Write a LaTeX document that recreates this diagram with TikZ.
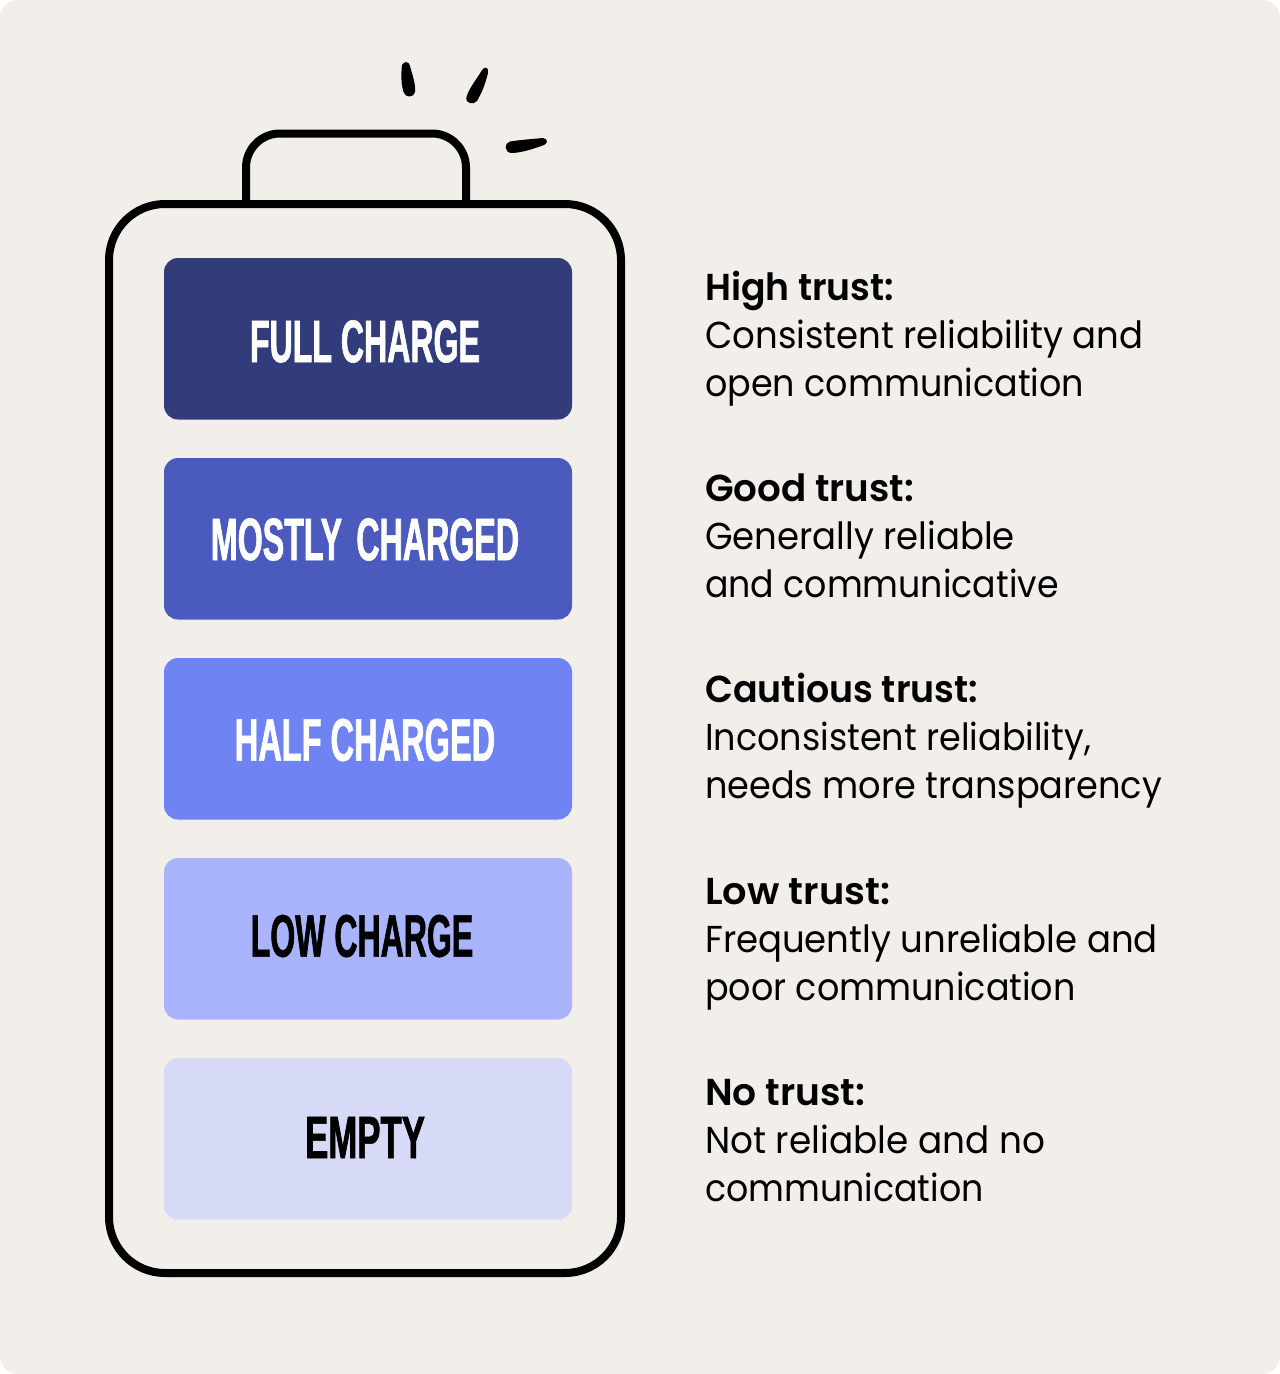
\documentclass[tikz,border=0pt]{standalone}
\usepackage{fontspec}
\usepackage{graphicx}
\setmainfont[FakeStretch=0.946,BoldFont={Poppins SemiBold}]{Poppins}
\newfontfamily\condfont[FakeStretch=0.5,FakeBold=1.0]{Liberation Sans Bold}
\newcommand{\widen}[2]{\scalebox{#1}[1]{#2}}
\definecolor{bgbeige}{HTML}{F2EEEA}
\definecolor{fullc}{HTML}{333C7B}
\definecolor{mostc}{HTML}{4A5ABD}
\definecolor{halfc}{HTML}{6F83F2}
\definecolor{lowc}{HTML}{A9B4FC}
\definecolor{emptyc}{HTML}{D6DAF6}
\tikzset{
  x=1pt,y=-1pt,
  cell/.style={rounded corners=14pt},
  outline/.style={draw=black,line width=8pt},
  capword/.style={font=\condfont\fontsize{60}{60}\selectfont,anchor=center,inner sep=0pt},
  bodyline/.style={font=\fontsize{37.5}{48}\selectfont,anchor=base west,inner sep=0pt,text=black},
  headline/.style={bodyline,font=\bfseries\fontsize{37.5}{48}\selectfont},
}
\begin{document}
\begin{tikzpicture}
\useasboundingbox (0,0) rectangle (1280,1374);
\fill[white] (0,0) rectangle (1280,1374);
\fill[bgbeige,rounded corners=18pt] (0,0) rectangle (1280,1374);
% battery terminal and body
\draw[outline,rounded corners=34pt] (246,204) -- (246,133.5) -- (466,133.5) -- (466,204);
\draw[outline,rounded corners=56pt] (109,204) rectangle (621,1273);
% sparks
\fill[black] (402,65) .. controls (404,61) and (409,61) .. (410,66) .. controls (412,74) and (416,84) .. (415,92) .. controls (414,98) and (405,98) .. (403.5,92) .. controls (401,84) and (401,74) .. (402,65);
\fill[black] (482,70) .. controls (485,66) and (489,67) .. (488,73) .. controls (486,81) and (483,91) .. (477,101) .. controls (474,105) and (465,104) .. (466.5,97) .. controls (469,88) and (477,79) .. (482,70);
\fill[black] (510,141.5) .. controls (519,140) and (532,139) .. (543,138) .. controls (548,139) and (548,143) .. (544,145) .. controls (533,149) and (521,153) .. (511,153) .. controls (504,152) and (504,143) .. (510,141.5);
% charge cells
\fill[fullc,cell] (164,258) rectangle (572,419.5);
\fill[mostc,cell] (164,458) rectangle (572,619.5);
\fill[halfc,cell] (164,658) rectangle (572,819.5);
\fill[lowc,cell] (164,858) rectangle (572,1019.5);
\fill[emptyc,cell] (164,1058) rectangle (572,1219.5);
\node[capword,text=white] (full) at (365,341.5) {\widen{1.07}{FULL CHARGE}};
\node[capword,text=white] (mostly) at (365,539.5) {\widen{1.073}{MOSTLY\hspace{5pt} CHARGED}};
\node[capword,text=white] (half) at (365,740) {\widen{1.085}{HALF CHARGED}};
\node[capword,text=black] (low) at (362,936) {\widen{1.068}{LOW CHARGE}};
\node[capword,text=black] (empty) at (365,1137.5) {\widen{1.16}{EMPTY}};
% descriptions
\node[headline] (h1) at (705,300) {\widen{1.02}{High trust:}};
\node[bodyline] (h1a) at (705,348) {Consistent reliability and};
\node[bodyline] (h1b) at (705,396) {\widen{0.985}{open communication}};
\node[headline] (h2) at (705,501) {\widen{1.05}{Good trust:}};
\node[bodyline] (h2a) at (705,549) {Generally reliable};
\node[bodyline] (h2b) at (705,597) {\widen{0.98}{and communicative}};
\node[headline] (h3) at (705,702) {\widen{1.026}{Cautious trust:}};
\node[bodyline] (h3a) at (705,750) {\widen{0.987}{Inconsistent reliability,}};
\node[bodyline] (h3b) at (705,798) {\widen{0.99}{needs more transparency}};
\node[headline] (h4) at (705,904) {\widen{1.08}{Low trust:}};
\node[bodyline] (h4a) at (705,952) {Frequently unreliable and};
\node[bodyline] (h4b) at (705,1000) {\widen{0.985}{poor communication}};
\node[headline] (h5) at (705,1105) {\widen{1.06}{No trust:}};
\node[bodyline] (h5a) at (705,1153) {\widen{1.01}{Not reliable and no}};
\node[bodyline] (h5b) at (705,1201) {\widen{0.98}{communication}};
\end{tikzpicture}
\end{document}
